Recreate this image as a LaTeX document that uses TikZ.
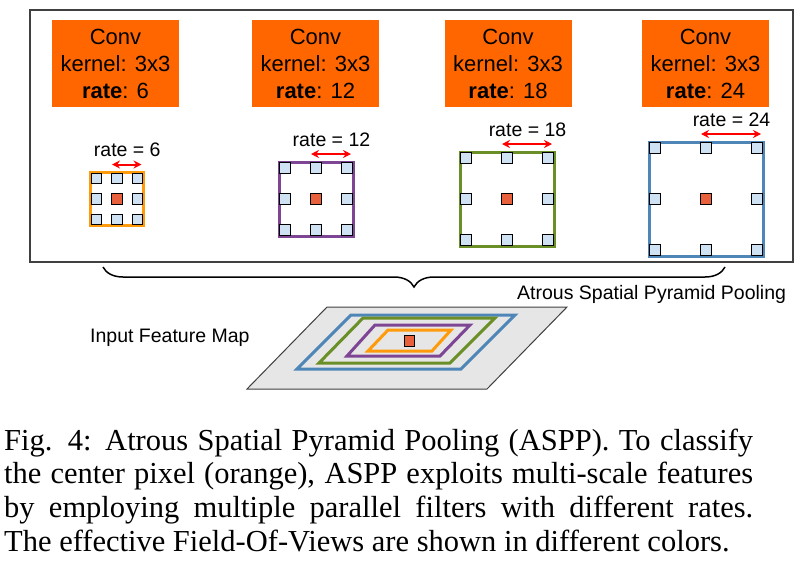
\documentclass[tikz,border=0pt]{standalone}
\usepackage{fontspec}
\setmainfont{Liberation Sans}
\newfontfamily\captionserif{Liberation Serif}
\usetikzlibrary{arrows.meta,decorations.pathreplacing}

\definecolor{convorange}{HTML}{FF6600}
\definecolor{fovorange}{HTML}{FF9A0A}
\definecolor{fovpurple}{HTML}{7E4594}
\definecolor{fovgreen}{HTML}{6A8F26}
\definecolor{fovblue}{HTML}{4F86B8}
\definecolor{samplefill}{HTML}{CFE2F3}
\definecolor{centerfill}{HTML}{E8603C}
\definecolor{mapfill}{HTML}{E6E6E6}

\begin{document}
\begin{tikzpicture}[x=1pt, y=-1pt, >={Stealth[length=8pt,width=8pt]},
  convbox/.style={fill=convorange, minimum width=127pt, minimum height=87pt,
    inner sep=0pt, align=center, font=\fontsize{22}{27}\selectfont},
  ratelabel/.style={anchor=base, inner sep=0pt, font=\fontsize{19.5}{23}\selectfont},
  plainlabel/.style={anchor=base west, inner sep=0pt, font=\fontsize{19.5}{23}\selectfont},
  captionline/.style={anchor=base west, inner sep=0pt,
    font=\captionserif\fontsize{30.5}{33.7}\selectfont},
  sample/.style={fill=samplefill, draw=black, line width=0.8pt},
  ring/.style={line width=3pt, line join=miter}]

\useasboundingbox (0,0) rectangle (799,571);

\draw[black!75, line width=1.2pt] (30,10) rectangle (793,262);

\foreach \n/\bx in {6/115.5, 12/315.5, 18/508, 24/705.5}
  \node[convbox] (conv\n) at (\bx,63.5) {Conv\\kernel: 3x3\\\textbf{rate}: \n};

\foreach \n/\cx/\d/\col in {6/117/20.5/fovorange, 12/316/31/fovpurple,
    18/507/41/fovgreen, 24/706/51/fovblue} {
  \draw[\col, line width=3pt] ({\cx-\d-6},{193-\d}) rectangle ({\cx+\d+6},{205+\d});
  \foreach \i in {-1,0,1}
    \foreach \j in {-1,0,1}
      \filldraw[sample] ({\cx+\i*\d-5.25},{199+\j*\d-5.25}) rectangle +(10.5,10.5);
  \filldraw[sample, fill=centerfill] ({\cx-5.25},{193.75}) rectangle +(10.5,10.5);
  \coordinate (al\n) at ({\cx-5},{185-\d});
  \coordinate (ar\n) at ({\cx+\d+4},{185-\d});
  \draw[<->, red, line width=2pt] (al\n) -- (ar\n);
  \node[ratelabel] (rate\n) at ({\cx+\d/2},{177-\d}) {rate = \n};
}

\coordinate (braceL) at (103,267);
\coordinate (braceR) at (725,267);
\draw[line width=1.5pt, decorate, decoration={brace, mirror, amplitude=20pt}]
  (braceL) -- (braceR);
\node[plainlabel] (aspp) at (517,299) {Atrous Spatial Pyramid Pooling};
\node[plainlabel] (input) at (90,342) {Input Feature Map};

\filldraw[fill=mapfill, draw=black!75, line width=1pt]
  (247,389) -- (487,389) -- (567,307) -- (327,307) -- cycle;
\draw[ring, fovblue] (297,369) -- (461,369) -- (515,315) -- (351,315) -- cycle;
\draw[ring, fovgreen] (319,363) -- (450,363) -- (495,318) -- (363,318) -- cycle;
\draw[ring, fovpurple] (347,356) -- (440,356) -- (470,325) -- (375,325) -- cycle;
\draw[ring, fovorange] (368,351) -- (432,351) -- (451,330) -- (388,330) -- cycle;
\filldraw[fill=centerfill, draw=black, line width=0.8pt] (404,335) rectangle (414,346);

\node[captionline] (cap1) at (4,450)
  {\makebox[749pt][s]{Fig. 4: Atrous Spatial Pyramid Pooling (ASPP). To classify}};
\node[captionline] (cap2) at (4,483.5)
  {\makebox[749pt][s]{the center pixel (orange), ASPP exploits multi-scale features}};
\node[captionline] (cap3) at (4,517)
  {\makebox[749pt][s]{by employing multiple parallel filters with different rates.}};
\node[captionline] (cap4) at (4,551)
  {The effective Field-Of-Views are shown in different colors.};

\end{tikzpicture}
\end{document}
